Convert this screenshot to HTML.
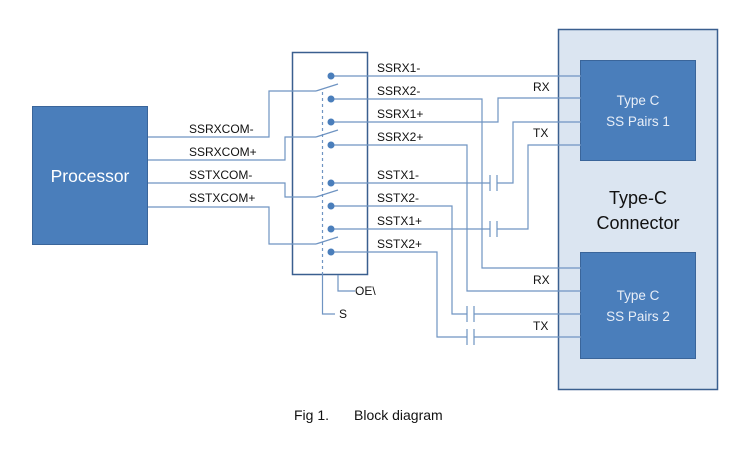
<!DOCTYPE html>
<html><head><meta charset="utf-8"><style>
html,body{margin:0;padding:0;background:#fff;width:746px;height:461px;overflow:hidden}
svg{display:block}
text{font-family:"Liberation Sans",Arial,sans-serif}
</style></head><body>
<svg width="746" height="461" viewBox="0 0 746 461" xmlns="http://www.w3.org/2000/svg">
<!-- Processor -->
<rect x="32.5" y="106.5" width="115" height="138" fill="#4a7ebb" stroke="#3a659a" stroke-width="1"/>
<text x="90" y="182" fill="#fff" font-size="17.5" text-anchor="middle">Processor</text>

<!-- Connector -->
<rect x="558.5" y="29.5" width="159" height="360" fill="#dbe5f1" stroke="#3a5f8f" stroke-width="1.5"/>
<rect x="580.5" y="60.5" width="115" height="100" fill="#4a7ebb" stroke="#3a659a"/>
<rect x="580.5" y="252.5" width="115" height="106" fill="#4a7ebb" stroke="#3a659a"/>
<text x="638" y="105" fill="#e8eef7" font-size="13.5" text-anchor="middle">Type C</text>
<text x="638" y="126" fill="#e8eef7" font-size="13.5" text-anchor="middle">SS Pairs 1</text>
<text x="638" y="300" fill="#e8eef7" font-size="13.5" text-anchor="middle">Type C</text>
<text x="638" y="321" fill="#e8eef7" font-size="13.5" text-anchor="middle">SS Pairs 2</text>
<text x="638" y="204" fill="#111" font-size="18" text-anchor="middle">Type-C</text>
<text x="638" y="229" fill="#111" font-size="18" text-anchor="middle">Connector</text>

<!-- Switch box -->
<rect x="292.5" y="52.5" width="75" height="222" fill="none" stroke="#3a5f8f" stroke-width="1.5"/>

<g fill="none" stroke="#6f94c2" stroke-width="1.2">
<polyline points="148,137 269,137 269,91 316,91"/>
<polyline points="148,160 285,160 285,137 316,137"/>
<polyline points="148,183 285,183 285,197 316,197"/>
<polyline points="148,207 269,207 269,244 316,244"/>
<line x1="316" y1="91" x2="338" y2="84"/>
<line x1="316" y1="137" x2="338" y2="130"/>
<line x1="316" y1="197" x2="338" y2="190"/>
<line x1="316" y1="244" x2="338" y2="237"/>
<line x1="322.5" y1="92" x2="322.5" y2="275" stroke-dasharray="3,3"/>
<polyline points="322.5,275 322.5,314 335,314"/>
<polyline points="338,275 338,291 355,291"/>
<line x1="331" y1="76" x2="581" y2="76"/>
<polyline points="331,99 482,99 482,268 581,268"/>
<polyline points="331,122 498,122 498,98 581,98"/>
<polyline points="331,145 467,145 467,291 581,291"/>
<polyline points="331,183 490,183"/>
<polyline points="497,183 513,183 513,122 581,122"/>
<polyline points="331,229 490,229"/>
<polyline points="497,229 528,229 528,145 581,145"/>
<polyline points="331,206 452,206 452,314 467,314"/>
<line x1="474" y1="314" x2="581" y2="314"/>
<polyline points="331,252 437,252 437,337 467,337"/>
<line x1="474" y1="337" x2="581" y2="337"/>
<line x1="490" y1="175" x2="490" y2="191"/><line x1="497" y1="175" x2="497" y2="191"/>
<line x1="490" y1="221" x2="490" y2="237"/><line x1="497" y1="221" x2="497" y2="237"/>
<line x1="467" y1="306" x2="467" y2="322"/><line x1="474" y1="306" x2="474" y2="322"/>
<line x1="467" y1="329" x2="467" y2="345"/><line x1="474" y1="329" x2="474" y2="345"/>
</g>
<g fill="#4a7ebb">
<circle cx="331" cy="76" r="3.5"/><circle cx="331" cy="99" r="3.5"/>
<circle cx="331" cy="122" r="3.5"/><circle cx="331" cy="145" r="3.5"/>
<circle cx="331" cy="183" r="3.5"/><circle cx="331" cy="206" r="3.5"/>
<circle cx="331" cy="229" r="3.5"/><circle cx="331" cy="252" r="3.5"/>
</g>
<g font-size="12" fill="#111">
<text x="189" y="133">SSRXCOM-</text>
<text x="189" y="156">SSRXCOM+</text>
<text x="189" y="179">SSTXCOM-</text>
<text x="189" y="202">SSTXCOM+</text>
<text x="377" y="72">SSRX1-</text>
<text x="377" y="95">SSRX2-</text>
<text x="377" y="118">SSRX1+</text>
<text x="377" y="141">SSRX2+</text>
<text x="377" y="179">SSTX1-</text>
<text x="377" y="202">SSTX2-</text>
<text x="377" y="225">SSTX1+</text>
<text x="377" y="248">SSTX2+</text>
<text x="533" y="91">RX</text>
<text x="533" y="137">TX</text>
<text x="533" y="284">RX</text>
<text x="533" y="330">TX</text>
<text x="355" y="295">OE\</text>
<text x="339" y="318">S</text>
</g>
<text x="294" y="420" font-size="14" fill="#111">Fig 1.</text>
<text x="354" y="420" font-size="14" fill="#111">Block diagram</text>
</svg>
</body></html>
